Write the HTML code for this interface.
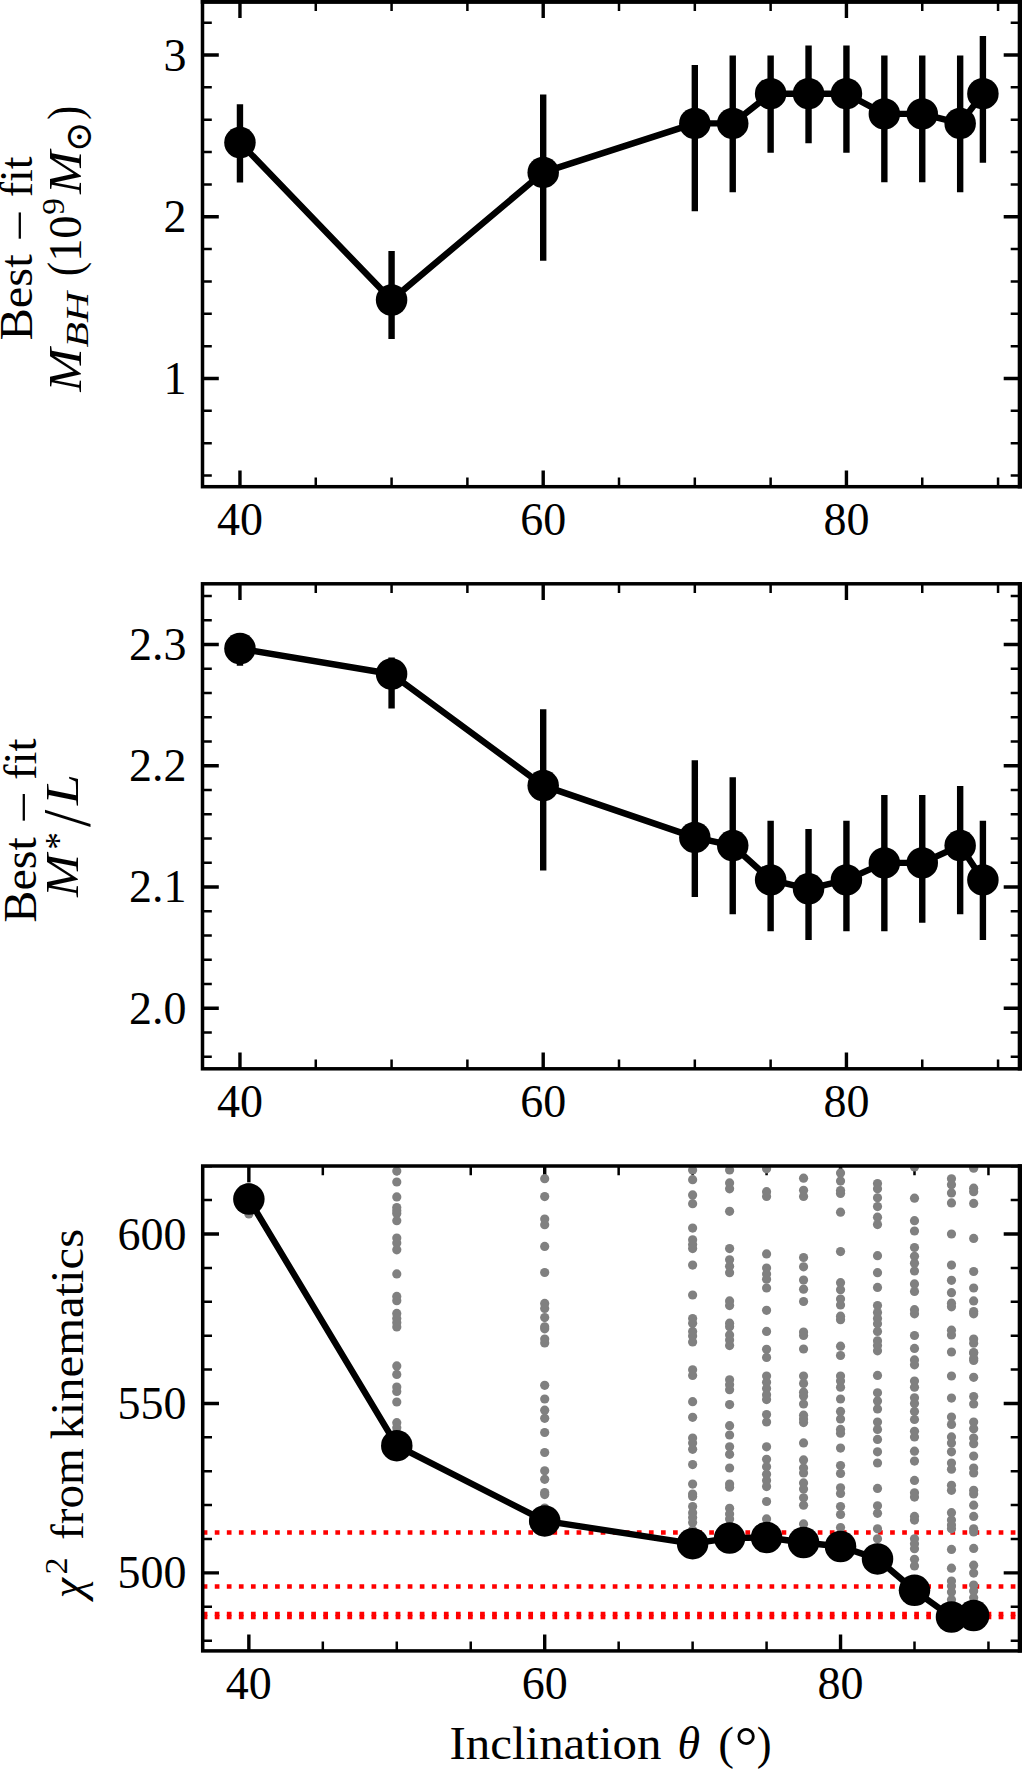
<!DOCTYPE html><html><head><meta charset="utf-8"><title>Best-fit parameters vs inclination</title>
<style>html,body{margin:0;padding:0;background:#fff;width:1022px;height:1771px;overflow:hidden}svg{display:block}text{font-family:"Liberation Serif", "DejaVu Serif", serif;fill:#000}</style></head><body>
<svg width="1022" height="1771" viewBox="0 0 1022 1771">
<rect width="1022" height="1771" fill="#fff"/>
<defs>
<clipPath id="c0"><rect x="202.5" y="1.75" width="817.5" height="484.95"/></clipPath>
<clipPath id="c1"><rect x="202.5" y="583.8" width="817.5" height="485"/></clipPath>
<clipPath id="c2"><rect x="202.7" y="1166" width="817.3" height="484.9"/></clipPath>
</defs>
<path d="M239.96 486.7L239.96 470.4M239.96 1.75L239.96 18.05M543.2 486.7L543.2 470.4M543.2 1.75L543.2 18.05M846.44 486.7L846.44 470.4M846.44 1.75L846.44 18.05M202.5 378.5L218.8 378.5M1020 378.5L1003.7 378.5M202.5 216.75L218.8 216.75M1020 216.75L1003.7 216.75M202.5 55L218.8 55M1020 55L1003.7 55" stroke="#000" stroke-width="3.4" fill="none"/>
<path d="M315.77 486.7L315.77 477.4M315.77 1.75L315.77 11.05M391.58 486.7L391.58 477.4M391.58 1.75L391.58 11.05M467.39 486.7L467.39 477.4M467.39 1.75L467.39 11.05M619.01 486.7L619.01 477.4M619.01 1.75L619.01 11.05M694.82 486.7L694.82 477.4M694.82 1.75L694.82 11.05M770.63 486.7L770.63 477.4M770.63 1.75L770.63 11.05M922.25 486.7L922.25 477.4M922.25 1.75L922.25 11.05M998.06 486.7L998.06 477.4M998.06 1.75L998.06 11.05M202.5 475.55L211.8 475.55M1020 475.55L1010.7 475.55M202.5 443.2L211.8 443.2M1020 443.2L1010.7 443.2M202.5 410.85L211.8 410.85M1020 410.85L1010.7 410.85M202.5 346.15L211.8 346.15M1020 346.15L1010.7 346.15M202.5 313.8L211.8 313.8M1020 313.8L1010.7 313.8M202.5 281.45L211.8 281.45M1020 281.45L1010.7 281.45M202.5 249.1L211.8 249.1M1020 249.1L1010.7 249.1M202.5 184.4L211.8 184.4M1020 184.4L1010.7 184.4M202.5 152.05L211.8 152.05M1020 152.05L1010.7 152.05M202.5 119.7L211.8 119.7M1020 119.7L1010.7 119.7M202.5 87.35L211.8 87.35M1020 87.35L1010.7 87.35M202.5 22.65L211.8 22.65M1020 22.65L1010.7 22.65" stroke="#000" stroke-width="2.5" fill="none"/>
<g clip-path="url(#c0)">
<path d="M239.96 104.3V182.5M391.58 251V339.1M543.2 94.5V260.8M694.82 65V211.3M732.73 55.4V192.2M770.63 55.4V152.8M808.54 45.5V143.3M846.44 45.5V152.8M884.35 55.4V182.2M922.25 55.4V182.2M960.16 55.4V192.2M982.9 35.9V162.8" stroke="#000" stroke-width="6.4" fill="none"/>
<polyline points="239.96,142.6 391.58,300 543.2,172.4 694.82,123.4 732.73,123.4 770.63,93.7 808.54,93.7 846.44,93.7 884.35,113.9 922.25,113.9 960.16,123.4 982.9,93.7" stroke="#000" stroke-width="6.4" fill="none" stroke-linejoin="round"/>
<circle cx="239.96" cy="142.6" r="15.75"/>
<circle cx="391.58" cy="300" r="15.75"/>
<circle cx="543.2" cy="172.4" r="15.75"/>
<circle cx="694.82" cy="123.4" r="15.75"/>
<circle cx="732.73" cy="123.4" r="15.75"/>
<circle cx="770.63" cy="93.7" r="15.75"/>
<circle cx="808.54" cy="93.7" r="15.75"/>
<circle cx="846.44" cy="93.7" r="15.75"/>
<circle cx="884.35" cy="113.9" r="15.75"/>
<circle cx="922.25" cy="113.9" r="15.75"/>
<circle cx="960.16" cy="123.4" r="15.75"/>
<circle cx="982.9" cy="93.7" r="15.75"/>
</g>
<rect x="202.5" y="1.75" width="817.5" height="484.95" fill="none" stroke="#000" stroke-width="3.5"/>
<rect x="1017.7" y="0" width="4.3" height="488.45"/>
<rect x="200.75" y="0" width="821.25" height="3.8"/>
<path d="M239.96 1068.8L239.96 1052.5M239.96 583.8L239.96 600.1M543.2 1068.8L543.2 1052.5M543.2 583.8L543.2 600.1M846.44 1068.8L846.44 1052.5M846.44 583.8L846.44 600.1M202.5 1008.2L218.8 1008.2M1020 1008.2L1003.7 1008.2M202.5 886.95L218.8 886.95M1020 886.95L1003.7 886.95M202.5 765.7L218.8 765.7M1020 765.7L1003.7 765.7M202.5 644.45L218.8 644.45M1020 644.45L1003.7 644.45" stroke="#000" stroke-width="3.4" fill="none"/>
<path d="M315.77 1068.8L315.77 1059.5M315.77 583.8L315.77 593.1M391.58 1068.8L391.58 1059.5M391.58 583.8L391.58 593.1M467.39 1068.8L467.39 1059.5M467.39 583.8L467.39 593.1M619.01 1068.8L619.01 1059.5M619.01 583.8L619.01 593.1M694.82 1068.8L694.82 1059.5M694.82 583.8L694.82 593.1M770.63 1068.8L770.63 1059.5M770.63 583.8L770.63 593.1M922.25 1068.8L922.25 1059.5M922.25 583.8L922.25 593.1M998.06 1068.8L998.06 1059.5M998.06 583.8L998.06 593.1M202.5 1056.7L211.8 1056.7M1020 1056.7L1010.7 1056.7M202.5 1032.45L211.8 1032.45M1020 1032.45L1010.7 1032.45M202.5 983.95L211.8 983.95M1020 983.95L1010.7 983.95M202.5 959.7L211.8 959.7M1020 959.7L1010.7 959.7M202.5 935.45L211.8 935.45M1020 935.45L1010.7 935.45M202.5 911.2L211.8 911.2M1020 911.2L1010.7 911.2M202.5 862.7L211.8 862.7M1020 862.7L1010.7 862.7M202.5 838.45L211.8 838.45M1020 838.45L1010.7 838.45M202.5 814.2L211.8 814.2M1020 814.2L1010.7 814.2M202.5 789.95L211.8 789.95M1020 789.95L1010.7 789.95M202.5 741.45L211.8 741.45M1020 741.45L1010.7 741.45M202.5 717.2L211.8 717.2M1020 717.2L1010.7 717.2M202.5 692.95L211.8 692.95M1020 692.95L1010.7 692.95M202.5 668.7L211.8 668.7M1020 668.7L1010.7 668.7M202.5 620.2L211.8 620.2M1020 620.2L1010.7 620.2M202.5 595.95L211.8 595.95M1020 595.95L1010.7 595.95" stroke="#000" stroke-width="2.5" fill="none"/>
<g clip-path="url(#c1)">
<path d="M239.96 634.5V665.8M391.58 657.6V708.5M543.2 709.2V870.5M694.82 760.2V896.9M732.73 777.2V914.3M770.63 820.8V931.3M808.54 828.9V940.1M846.44 820.8V931.3M884.35 794.9V931.3M922.25 794.9V922.8M960.16 786V914.3M982.9 820.8V940.1" stroke="#000" stroke-width="6.4" fill="none"/>
<polyline points="239.96,648.6 391.58,674 543.2,785.6 694.82,837.4 732.73,845.6 770.63,879.9 808.54,888.8 846.44,879.9 884.35,862.9 922.25,862.9 960.16,845.6 982.9,879.9" stroke="#000" stroke-width="6.4" fill="none" stroke-linejoin="round"/>
<circle cx="239.96" cy="648.6" r="15.75"/>
<circle cx="391.58" cy="674" r="15.75"/>
<circle cx="543.2" cy="785.6" r="15.75"/>
<circle cx="694.82" cy="837.4" r="15.75"/>
<circle cx="732.73" cy="845.6" r="15.75"/>
<circle cx="770.63" cy="879.9" r="15.75"/>
<circle cx="808.54" cy="888.8" r="15.75"/>
<circle cx="846.44" cy="879.9" r="15.75"/>
<circle cx="884.35" cy="862.9" r="15.75"/>
<circle cx="922.25" cy="862.9" r="15.75"/>
<circle cx="960.16" cy="845.6" r="15.75"/>
<circle cx="982.9" cy="879.9" r="15.75"/>
</g>
<rect x="202.5" y="583.8" width="817.5" height="485" fill="none" stroke="#000" stroke-width="3.5"/>
<rect x="1017.7" y="582.05" width="4.3" height="488.5"/>
<path d="M248.86 1650.9L248.86 1634.6M248.86 1166L248.86 1182.3M544.7 1650.9L544.7 1634.6M544.7 1166L544.7 1182.3M840.54 1650.9L840.54 1634.6M840.54 1166L840.54 1182.3M202.7 1572.9L219 1572.9M1020 1572.9L1003.7 1572.9M202.7 1403.45L219 1403.45M1020 1403.45L1003.7 1403.45M202.7 1234L219 1234M1020 1234L1003.7 1234" stroke="#000" stroke-width="3.4" fill="none"/>
<path d="M322.82 1650.9L322.82 1641.6M322.82 1166L322.82 1175.3M396.78 1650.9L396.78 1641.6M396.78 1166L396.78 1175.3M470.74 1650.9L470.74 1641.6M470.74 1166L470.74 1175.3M618.66 1650.9L618.66 1641.6M618.66 1166L618.66 1175.3M692.62 1650.9L692.62 1641.6M692.62 1166L692.62 1175.3M766.58 1650.9L766.58 1641.6M766.58 1166L766.58 1175.3M914.5 1650.9L914.5 1641.6M914.5 1166L914.5 1175.3M988.46 1650.9L988.46 1641.6M988.46 1166L988.46 1175.3M202.7 1640.68L212 1640.68M1020 1640.68L1010.7 1640.68M202.7 1606.79L212 1606.79M1020 1606.79L1010.7 1606.79M202.7 1539.01L212 1539.01M1020 1539.01L1010.7 1539.01M202.7 1505.12L212 1505.12M1020 1505.12L1010.7 1505.12M202.7 1471.23L212 1471.23M1020 1471.23L1010.7 1471.23M202.7 1437.34L212 1437.34M1020 1437.34L1010.7 1437.34M202.7 1369.56L212 1369.56M1020 1369.56L1010.7 1369.56M202.7 1335.67L212 1335.67M1020 1335.67L1010.7 1335.67M202.7 1301.78L212 1301.78M1020 1301.78L1010.7 1301.78M202.7 1267.89L212 1267.89M1020 1267.89L1010.7 1267.89M202.7 1200.11L212 1200.11M1020 1200.11L1010.7 1200.11M202.7 1166.22L212 1166.22M1020 1166.22L1010.7 1166.22" stroke="#000" stroke-width="2.5" fill="none"/>
<g clip-path="url(#c2)">
<line x1="202.7" y1="1532.5" x2="1020" y2="1532.5" stroke="#f00" stroke-width="4.7" stroke-dasharray="4.7 7.36"/>
<line x1="202.7" y1="1586.5" x2="1020" y2="1586.5" stroke="#f00" stroke-width="4.7" stroke-dasharray="4.7 7.36"/>
<line x1="202.7" y1="1614" x2="1020" y2="1614" stroke="#f00" stroke-width="4.7" stroke-dasharray="4.7 7.36"/>
<line x1="202.7" y1="1617" x2="1020" y2="1617" stroke="#f00" stroke-width="4.7" stroke-dasharray="4.7 7.36"/>
<g fill="#808080"><circle cx="248.86" cy="1187" r="4.6"/><circle cx="248.86" cy="1199" r="4.6"/><circle cx="248.86" cy="1214" r="4.6"/><circle cx="396.78" cy="1171" r="4.6"/><circle cx="396.78" cy="1182" r="4.6"/><circle cx="396.78" cy="1196.9" r="4.6"/><circle cx="396.78" cy="1207.5" r="4.6"/><circle cx="396.78" cy="1210.8" r="4.6"/><circle cx="396.78" cy="1213.4" r="4.6"/><circle cx="396.78" cy="1220.7" r="4.6"/><circle cx="396.78" cy="1238" r="4.6"/><circle cx="396.78" cy="1243.1" r="4.6"/><circle cx="396.78" cy="1249.8" r="4.6"/><circle cx="396.78" cy="1273.9" r="4.6"/><circle cx="396.78" cy="1296.4" r="4.6"/><circle cx="396.78" cy="1300.7" r="4.6"/><circle cx="396.78" cy="1313.4" r="4.6"/><circle cx="396.78" cy="1318.5" r="4.6"/><circle cx="396.78" cy="1322.7" r="4.6"/><circle cx="396.78" cy="1327" r="4.6"/><circle cx="396.78" cy="1365.9" r="4.6"/><circle cx="396.78" cy="1374.4" r="4.6"/><circle cx="396.78" cy="1387.1" r="4.6"/><circle cx="396.78" cy="1391.4" r="4.6"/><circle cx="396.78" cy="1402" r="4.6"/><circle cx="396.78" cy="1422.7" r="4.6"/><circle cx="396.78" cy="1427.8" r="4.6"/><circle cx="396.78" cy="1436" r="4.6"/><circle cx="544.7" cy="1178.7" r="4.6"/><circle cx="544.7" cy="1196.6" r="4.6"/><circle cx="544.7" cy="1219" r="4.6"/><circle cx="544.7" cy="1224.7" r="4.6"/><circle cx="544.7" cy="1246.4" r="4.6"/><circle cx="544.7" cy="1272.5" r="4.6"/><circle cx="544.7" cy="1303.4" r="4.6"/><circle cx="544.7" cy="1308.5" r="4.6"/><circle cx="544.7" cy="1317.6" r="4.6"/><circle cx="544.7" cy="1326.8" r="4.6"/><circle cx="544.7" cy="1328.8" r="4.6"/><circle cx="544.7" cy="1339" r="4.6"/><circle cx="544.7" cy="1343" r="4.6"/><circle cx="544.7" cy="1385.3" r="4.6"/><circle cx="544.7" cy="1399" r="4.6"/><circle cx="544.7" cy="1410.2" r="4.6"/><circle cx="544.7" cy="1418.3" r="4.6"/><circle cx="544.7" cy="1432.5" r="4.6"/><circle cx="544.7" cy="1452.5" r="4.6"/><circle cx="544.7" cy="1470.8" r="4.6"/><circle cx="544.7" cy="1479.3" r="4.6"/><circle cx="544.7" cy="1492.5" r="4.6"/><circle cx="544.7" cy="1494.6" r="4.6"/><circle cx="544.7" cy="1508" r="4.6"/><circle cx="692.62" cy="1170" r="4.6"/><circle cx="692.62" cy="1179.7" r="4.6"/><circle cx="692.62" cy="1194.9" r="4.6"/><circle cx="692.62" cy="1203.7" r="4.6"/><circle cx="692.62" cy="1228.1" r="4.6"/><circle cx="692.62" cy="1239.8" r="4.6"/><circle cx="692.62" cy="1244.5" r="4.6"/><circle cx="692.62" cy="1248.6" r="4.6"/><circle cx="692.62" cy="1265.1" r="4.6"/><circle cx="692.62" cy="1295" r="4.6"/><circle cx="692.62" cy="1318.5" r="4.6"/><circle cx="692.62" cy="1323.2" r="4.6"/><circle cx="692.62" cy="1331.4" r="4.6"/><circle cx="692.62" cy="1336.1" r="4.6"/><circle cx="692.62" cy="1342" r="4.6"/><circle cx="692.62" cy="1369.8" r="4.6"/><circle cx="692.62" cy="1375.4" r="4.6"/><circle cx="692.62" cy="1401.7" r="4.6"/><circle cx="692.62" cy="1417.3" r="4.6"/><circle cx="692.62" cy="1438.1" r="4.6"/><circle cx="692.62" cy="1443.1" r="4.6"/><circle cx="692.62" cy="1449.3" r="4.6"/><circle cx="692.62" cy="1464.6" r="4.6"/><circle cx="692.62" cy="1484.1" r="4.6"/><circle cx="692.62" cy="1494" r="4.6"/><circle cx="692.62" cy="1496.5" r="4.6"/><circle cx="692.62" cy="1506.5" r="4.6"/><circle cx="692.62" cy="1512.7" r="4.6"/><circle cx="692.62" cy="1517.6" r="4.6"/><circle cx="692.62" cy="1522.6" r="4.6"/><circle cx="692.62" cy="1530" r="4.6"/><circle cx="729.6" cy="1170" r="4.6"/><circle cx="729.6" cy="1182.9" r="4.6"/><circle cx="729.6" cy="1188.8" r="4.6"/><circle cx="729.6" cy="1211.3" r="4.6"/><circle cx="729.6" cy="1248.6" r="4.6"/><circle cx="729.6" cy="1259.8" r="4.6"/><circle cx="729.6" cy="1266.3" r="4.6"/><circle cx="729.6" cy="1272.7" r="4.6"/><circle cx="729.6" cy="1300.9" r="4.6"/><circle cx="729.6" cy="1305.6" r="4.6"/><circle cx="729.6" cy="1323.2" r="4.6"/><circle cx="729.6" cy="1326.7" r="4.6"/><circle cx="729.6" cy="1334.9" r="4.6"/><circle cx="729.6" cy="1340" r="4.6"/><circle cx="729.6" cy="1345.6" r="4.6"/><circle cx="729.6" cy="1379.8" r="4.6"/><circle cx="729.6" cy="1384.7" r="4.6"/><circle cx="729.6" cy="1389.7" r="4.6"/><circle cx="729.6" cy="1404.6" r="4.6"/><circle cx="729.6" cy="1425.7" r="4.6"/><circle cx="729.6" cy="1435" r="4.6"/><circle cx="729.6" cy="1446.8" r="4.6"/><circle cx="729.6" cy="1454.3" r="4.6"/><circle cx="729.6" cy="1468" r="4.6"/><circle cx="729.6" cy="1484.1" r="4.6"/><circle cx="729.6" cy="1487.2" r="4.6"/><circle cx="729.6" cy="1508.3" r="4.6"/><circle cx="729.6" cy="1513.9" r="4.6"/><circle cx="729.6" cy="1518.9" r="4.6"/><circle cx="729.6" cy="1526" r="4.6"/><circle cx="766.58" cy="1168.8" r="4.6"/><circle cx="766.58" cy="1191.7" r="4.6"/><circle cx="766.58" cy="1196.4" r="4.6"/><circle cx="766.58" cy="1253.9" r="4.6"/><circle cx="766.58" cy="1268" r="4.6"/><circle cx="766.58" cy="1273.9" r="4.6"/><circle cx="766.58" cy="1279.2" r="4.6"/><circle cx="766.58" cy="1288" r="4.6"/><circle cx="766.58" cy="1310.3" r="4.6"/><circle cx="766.58" cy="1331.4" r="4.6"/><circle cx="766.58" cy="1349.3" r="4.6"/><circle cx="766.58" cy="1357.4" r="4.6"/><circle cx="766.58" cy="1376" r="4.6"/><circle cx="766.58" cy="1382.2" r="4.6"/><circle cx="766.58" cy="1388.4" r="4.6"/><circle cx="766.58" cy="1394.7" r="4.6"/><circle cx="766.58" cy="1399.6" r="4.6"/><circle cx="766.58" cy="1414.5" r="4.6"/><circle cx="766.58" cy="1422" r="4.6"/><circle cx="766.58" cy="1446.8" r="4.6"/><circle cx="766.58" cy="1459.3" r="4.6"/><circle cx="766.58" cy="1466.7" r="4.6"/><circle cx="766.58" cy="1474.2" r="4.6"/><circle cx="766.58" cy="1480.4" r="4.6"/><circle cx="766.58" cy="1486.6" r="4.6"/><circle cx="766.58" cy="1501.5" r="4.6"/><circle cx="766.58" cy="1518.9" r="4.6"/><circle cx="766.58" cy="1526" r="4.6"/><circle cx="803.56" cy="1178.2" r="4.6"/><circle cx="803.56" cy="1190.3" r="4.6"/><circle cx="803.56" cy="1196.4" r="4.6"/><circle cx="803.56" cy="1257.5" r="4.6"/><circle cx="803.56" cy="1266.8" r="4.6"/><circle cx="803.56" cy="1280" r="4.6"/><circle cx="803.56" cy="1289.2" r="4.6"/><circle cx="803.56" cy="1301.5" r="4.6"/><circle cx="803.56" cy="1332" r="4.6"/><circle cx="803.56" cy="1335.5" r="4.6"/><circle cx="803.56" cy="1349" r="4.6"/><circle cx="803.56" cy="1376" r="4.6"/><circle cx="803.56" cy="1383.5" r="4.6"/><circle cx="803.56" cy="1392.2" r="4.6"/><circle cx="803.56" cy="1395.9" r="4.6"/><circle cx="803.56" cy="1404" r="4.6"/><circle cx="803.56" cy="1415.2" r="4.6"/><circle cx="803.56" cy="1418.9" r="4.6"/><circle cx="803.56" cy="1422.6" r="4.6"/><circle cx="803.56" cy="1442.9" r="4.6"/><circle cx="803.56" cy="1459.9" r="4.6"/><circle cx="803.56" cy="1468" r="4.6"/><circle cx="803.56" cy="1472.9" r="4.6"/><circle cx="803.56" cy="1482.9" r="4.6"/><circle cx="803.56" cy="1489.1" r="4.6"/><circle cx="803.56" cy="1497.8" r="4.6"/><circle cx="803.56" cy="1505.2" r="4.6"/><circle cx="803.56" cy="1523.9" r="4.6"/><circle cx="840.54" cy="1172.9" r="4.6"/><circle cx="840.54" cy="1181.1" r="4.6"/><circle cx="840.54" cy="1190.5" r="4.6"/><circle cx="840.54" cy="1193.5" r="4.6"/><circle cx="840.54" cy="1212.2" r="4.6"/><circle cx="840.54" cy="1251.6" r="4.6"/><circle cx="840.54" cy="1282.7" r="4.6"/><circle cx="840.54" cy="1289.7" r="4.6"/><circle cx="840.54" cy="1299.1" r="4.6"/><circle cx="840.54" cy="1305" r="4.6"/><circle cx="840.54" cy="1316.2" r="4.6"/><circle cx="840.54" cy="1319.7" r="4.6"/><circle cx="840.54" cy="1346.2" r="4.6"/><circle cx="840.54" cy="1355.5" r="4.6"/><circle cx="840.54" cy="1376" r="4.6"/><circle cx="840.54" cy="1381" r="4.6"/><circle cx="840.54" cy="1387.2" r="4.6"/><circle cx="840.54" cy="1399" r="4.6"/><circle cx="840.54" cy="1411.4" r="4.6"/><circle cx="840.54" cy="1418.9" r="4.6"/><circle cx="840.54" cy="1429.4" r="4.6"/><circle cx="840.54" cy="1433.2" r="4.6"/><circle cx="840.54" cy="1448.1" r="4.6"/><circle cx="840.54" cy="1465.5" r="4.6"/><circle cx="840.54" cy="1473.5" r="4.6"/><circle cx="840.54" cy="1487.8" r="4.6"/><circle cx="840.54" cy="1493.4" r="4.6"/><circle cx="840.54" cy="1506.5" r="4.6"/><circle cx="840.54" cy="1514.5" r="4.6"/><circle cx="840.54" cy="1527.6" r="4.6"/><circle cx="877.52" cy="1183.5" r="4.6"/><circle cx="877.52" cy="1188.8" r="4.6"/><circle cx="877.52" cy="1197.8" r="4.6"/><circle cx="877.52" cy="1206.6" r="4.6"/><circle cx="877.52" cy="1217.2" r="4.6"/><circle cx="877.52" cy="1224.6" r="4.6"/><circle cx="877.52" cy="1255.7" r="4.6"/><circle cx="877.52" cy="1272.7" r="4.6"/><circle cx="877.52" cy="1287.4" r="4.6"/><circle cx="877.52" cy="1305.6" r="4.6"/><circle cx="877.52" cy="1312.6" r="4.6"/><circle cx="877.52" cy="1318.5" r="4.6"/><circle cx="877.52" cy="1323.8" r="4.6"/><circle cx="877.52" cy="1331.4" r="4.6"/><circle cx="877.52" cy="1340.8" r="4.6"/><circle cx="877.52" cy="1345.5" r="4.6"/><circle cx="877.52" cy="1350.8" r="4.6"/><circle cx="877.52" cy="1375.4" r="4.6"/><circle cx="877.52" cy="1392.8" r="4.6"/><circle cx="877.52" cy="1400.9" r="4.6"/><circle cx="877.52" cy="1408.9" r="4.6"/><circle cx="877.52" cy="1422" r="4.6"/><circle cx="877.52" cy="1429.4" r="4.6"/><circle cx="877.52" cy="1439.4" r="4.6"/><circle cx="877.52" cy="1451.8" r="4.6"/><circle cx="877.52" cy="1463" r="4.6"/><circle cx="877.52" cy="1488.4" r="4.6"/><circle cx="877.52" cy="1505.8" r="4.6"/><circle cx="877.52" cy="1513.3" r="4.6"/><circle cx="877.52" cy="1528.8" r="4.6"/><circle cx="877.52" cy="1538.8" r="4.6"/><circle cx="914.5" cy="1167" r="4.6"/><circle cx="914.5" cy="1198.2" r="4.6"/><circle cx="914.5" cy="1220.7" r="4.6"/><circle cx="914.5" cy="1231" r="4.6"/><circle cx="914.5" cy="1247.5" r="4.6"/><circle cx="914.5" cy="1256.3" r="4.6"/><circle cx="914.5" cy="1263.3" r="4.6"/><circle cx="914.5" cy="1271" r="4.6"/><circle cx="914.5" cy="1283.9" r="4.6"/><circle cx="914.5" cy="1291.5" r="4.6"/><circle cx="914.5" cy="1309.7" r="4.6"/><circle cx="914.5" cy="1313.8" r="4.6"/><circle cx="914.5" cy="1335.5" r="4.6"/><circle cx="914.5" cy="1348.4" r="4.6"/><circle cx="914.5" cy="1359.9" r="4.6"/><circle cx="914.5" cy="1364.8" r="4.6"/><circle cx="914.5" cy="1381" r="4.6"/><circle cx="914.5" cy="1387.2" r="4.6"/><circle cx="914.5" cy="1397.8" r="4.6"/><circle cx="914.5" cy="1403.4" r="4.6"/><circle cx="914.5" cy="1411.4" r="4.6"/><circle cx="914.5" cy="1419.5" r="4.6"/><circle cx="914.5" cy="1431.3" r="4.6"/><circle cx="914.5" cy="1436.9" r="4.6"/><circle cx="914.5" cy="1451.2" r="4.6"/><circle cx="914.5" cy="1461.1" r="4.6"/><circle cx="914.5" cy="1480.4" r="4.6"/><circle cx="914.5" cy="1492.8" r="4.6"/><circle cx="914.5" cy="1497.1" r="4.6"/><circle cx="914.5" cy="1516.4" r="4.6"/><circle cx="914.5" cy="1520.1" r="4.6"/><circle cx="914.5" cy="1538.8" r="4.6"/><circle cx="914.5" cy="1543.7" r="4.6"/><circle cx="914.5" cy="1548.7" r="4.6"/><circle cx="914.5" cy="1559.3" r="4.6"/><circle cx="914.5" cy="1566" r="4.6"/><circle cx="951.48" cy="1178.8" r="4.6"/><circle cx="951.48" cy="1184.7" r="4.6"/><circle cx="951.48" cy="1192.9" r="4.6"/><circle cx="951.48" cy="1202.9" r="4.6"/><circle cx="951.48" cy="1234" r="4.6"/><circle cx="951.48" cy="1265.1" r="4.6"/><circle cx="951.48" cy="1280.3" r="4.6"/><circle cx="951.48" cy="1292.7" r="4.6"/><circle cx="951.48" cy="1303.2" r="4.6"/><circle cx="951.48" cy="1306.8" r="4.6"/><circle cx="951.48" cy="1330.2" r="4.6"/><circle cx="951.48" cy="1334.9" r="4.6"/><circle cx="951.48" cy="1352" r="4.6"/><circle cx="951.48" cy="1376" r="4.6"/><circle cx="951.48" cy="1398.1" r="4.6"/><circle cx="951.48" cy="1417" r="4.6"/><circle cx="951.48" cy="1424.5" r="4.6"/><circle cx="951.48" cy="1436.9" r="4.6"/><circle cx="951.48" cy="1443.1" r="4.6"/><circle cx="951.48" cy="1451.8" r="4.6"/><circle cx="951.48" cy="1463" r="4.6"/><circle cx="951.48" cy="1469.2" r="4.6"/><circle cx="951.48" cy="1485.3" r="4.6"/><circle cx="951.48" cy="1490.3" r="4.6"/><circle cx="951.48" cy="1512.7" r="4.6"/><circle cx="951.48" cy="1520.1" r="4.6"/><circle cx="951.48" cy="1525.1" r="4.6"/><circle cx="951.48" cy="1528.8" r="4.6"/><circle cx="951.48" cy="1549.4" r="4.6"/><circle cx="951.48" cy="1568.2" r="4.6"/><circle cx="951.48" cy="1581" r="4.6"/><circle cx="951.48" cy="1586" r="4.6"/><circle cx="951.48" cy="1592" r="4.6"/><circle cx="951.48" cy="1599.8" r="4.6"/><circle cx="973.67" cy="1168.2" r="4.6"/><circle cx="973.67" cy="1188.2" r="4.6"/><circle cx="973.67" cy="1191.7" r="4.6"/><circle cx="973.67" cy="1203.4" r="4.6"/><circle cx="973.67" cy="1238.4" r="4.6"/><circle cx="973.67" cy="1271.5" r="4.6"/><circle cx="973.67" cy="1288" r="4.6"/><circle cx="973.67" cy="1300.9" r="4.6"/><circle cx="973.67" cy="1311.5" r="4.6"/><circle cx="973.67" cy="1313.8" r="4.6"/><circle cx="973.67" cy="1339.1" r="4.6"/><circle cx="973.67" cy="1343.2" r="4.6"/><circle cx="973.67" cy="1352.6" r="4.6"/><circle cx="973.67" cy="1358.4" r="4.6"/><circle cx="973.67" cy="1353" r="4.6"/><circle cx="973.67" cy="1360.5" r="4.6"/><circle cx="973.67" cy="1377.3" r="4.6"/><circle cx="973.67" cy="1396.5" r="4.6"/><circle cx="973.67" cy="1404" r="4.6"/><circle cx="973.67" cy="1422" r="4.6"/><circle cx="973.67" cy="1428.8" r="4.6"/><circle cx="973.67" cy="1438.1" r="4.6"/><circle cx="973.67" cy="1443.7" r="4.6"/><circle cx="973.67" cy="1456.1" r="4.6"/><circle cx="973.67" cy="1468" r="4.6"/><circle cx="973.67" cy="1472.9" r="4.6"/><circle cx="973.67" cy="1490.3" r="4.6"/><circle cx="973.67" cy="1494" r="4.6"/><circle cx="973.67" cy="1505.2" r="4.6"/><circle cx="973.67" cy="1516.4" r="4.6"/><circle cx="973.67" cy="1528.8" r="4.6"/><circle cx="973.67" cy="1531.9" r="4.6"/><circle cx="973.67" cy="1548.4" r="4.6"/><circle cx="973.67" cy="1565.2" r="4.6"/><circle cx="973.67" cy="1573.1" r="4.6"/><circle cx="973.67" cy="1585" r="4.6"/><circle cx="973.67" cy="1591" r="4.6"/><circle cx="973.67" cy="1597.8" r="4.6"/></g>
<polyline points="248.86,1199.1 396.78,1445.7 544.7,1520.9 692.62,1543.7 729.6,1538.1 766.58,1537.5 803.56,1542.5 840.54,1546.5 877.52,1558.9 914.5,1590.3 951.48,1617 973.67,1615.6" stroke="#000" stroke-width="6.4" fill="none" stroke-linejoin="round"/>
<circle cx="248.86" cy="1199.1" r="15.75"/>
<circle cx="396.78" cy="1445.7" r="15.75"/>
<circle cx="544.7" cy="1520.9" r="15.75"/>
<circle cx="692.62" cy="1543.7" r="15.75"/>
<circle cx="729.6" cy="1538.1" r="15.75"/>
<circle cx="766.58" cy="1537.5" r="15.75"/>
<circle cx="803.56" cy="1542.5" r="15.75"/>
<circle cx="840.54" cy="1546.5" r="15.75"/>
<circle cx="877.52" cy="1558.9" r="15.75"/>
<circle cx="914.5" cy="1590.3" r="15.75"/>
<circle cx="951.48" cy="1617" r="15.75"/>
<circle cx="973.67" cy="1615.6" r="15.75"/>
</g>
<rect x="202.7" y="1166" width="817.3" height="484.9" fill="none" stroke="#000" stroke-width="3.5"/>
<rect x="1017.7" y="1164.25" width="4.3" height="488.4"/>
<text x="186.5" y="394" text-anchor="end" font-size="46">1</text>
<text x="186.5" y="232.25" text-anchor="end" font-size="46">2</text>
<text x="186.5" y="70.5" text-anchor="end" font-size="46">3</text>
<text x="186.5" y="1023.7" text-anchor="end" font-size="46">2.0</text>
<text x="186.5" y="902.45" text-anchor="end" font-size="46">2.1</text>
<text x="186.5" y="781.2" text-anchor="end" font-size="46">2.2</text>
<text x="186.5" y="659.95" text-anchor="end" font-size="46">2.3</text>
<text x="186.5" y="1588.4" text-anchor="end" font-size="46">500</text>
<text x="186.5" y="1418.95" text-anchor="end" font-size="46">550</text>
<text x="186.5" y="1249.5" text-anchor="end" font-size="46">600</text>
<text x="239.96" y="534.9" text-anchor="middle" font-size="46">40</text>
<text x="239.96" y="1117" text-anchor="middle" font-size="46">40</text>
<text x="248.86" y="1699.1" text-anchor="middle" font-size="46">40</text>
<text x="543.2" y="534.9" text-anchor="middle" font-size="46">60</text>
<text x="543.2" y="1117" text-anchor="middle" font-size="46">60</text>
<text x="544.7" y="1699.1" text-anchor="middle" font-size="46">60</text>
<text x="846.44" y="534.9" text-anchor="middle" font-size="46">80</text>
<text x="846.44" y="1117" text-anchor="middle" font-size="46">80</text>
<text x="840.54" y="1699.1" text-anchor="middle" font-size="46">80</text>
<text transform="translate(449.47 1759.2) scale(1.0640 1)" font-size="46">Inclination</text>
<text transform="translate(677.5 1759.2) scale(1.0000 1)" font-size="46" font-style="italic">θ</text>
<text transform="translate(718.35 1759.2) scale(1.0250 1)" font-size="46">(</text>
<text transform="translate(734.63 1766.4) scale(0.9972 1)" font-size="57">°</text>
<text transform="translate(756.73 1759.2) scale(0.9667 1)" font-size="46">)</text>
<text transform="translate(32 340.55) rotate(-90) scale(1.0538 1)" font-size="46">Best</text>
<text transform="translate(35.4 241.15) rotate(-90) scale(1.2273 1)" font-size="46">−</text>
<text transform="translate(32 197.3) rotate(-90) scale(1.0026 1)" font-size="46">fit</text>
<text transform="translate(81 391.7) rotate(-90) scale(1.1325 1)" font-size="46" font-style="italic">M</text>
<text transform="translate(87.8 347.4) rotate(-90) scale(1.3000 1)" font-size="32" font-style="italic">BH</text>
<text transform="translate(81.2 276.28) rotate(-90) scale(0.8840 1)" font-size="49">(</text>
<text transform="translate(81 261.83) rotate(-90) scale(1.0075 1)" font-size="46">10</text>
<text transform="translate(63.8 214.84) rotate(-90) scale(1.0357 1)" font-size="32">9</text>
<text transform="translate(81 193.9) rotate(-90) scale(1.1275 1)" font-size="46" font-style="italic">M</text>
<text transform="translate(91.1 152.25) rotate(-90) scale(0.9946 1)" font-size="37">⊙</text>
<text transform="translate(81.2 119.7) rotate(-90) scale(0.8449 1)" font-size="49">)</text>
<text transform="translate(35.9 922.64) rotate(-90) scale(1.0450 1)" font-size="46">Best</text>
<text transform="translate(39.3 823.29) rotate(-90) scale(1.2455 1)" font-size="46">−</text>
<text transform="translate(35.9 780.02) rotate(-90) scale(1.0179 1)" font-size="46">fit</text>
<text transform="translate(78.2 897) rotate(-90) scale(1.1175 1)" font-size="46" font-style="italic">M</text>
<text transform="translate(71 849.7) rotate(-90) scale(0.9514 1)" font-size="37">*</text>
<text transform="translate(89.2 826.9) rotate(-90) scale(0.9295 1)" font-size="67">/</text>
<text transform="translate(78.2 804.9) rotate(-90) scale(1.2130 1)" font-size="46" font-style="italic">L</text>
<text transform="translate(82.5 1598.22) rotate(-90) scale(0.9960 1)" font-size="46" font-style="italic">χ</text>
<text transform="translate(66.9 1574.47) rotate(-90) scale(1.0692 1)" font-size="32">2</text>
<text transform="translate(83.3 1539.93) rotate(-90) scale(1.0261 1)" font-size="46">from</text>
<text transform="translate(83.3 1439.56) rotate(-90) scale(1.0571 1)" font-size="46">kinematics</text>
</svg></body></html>
